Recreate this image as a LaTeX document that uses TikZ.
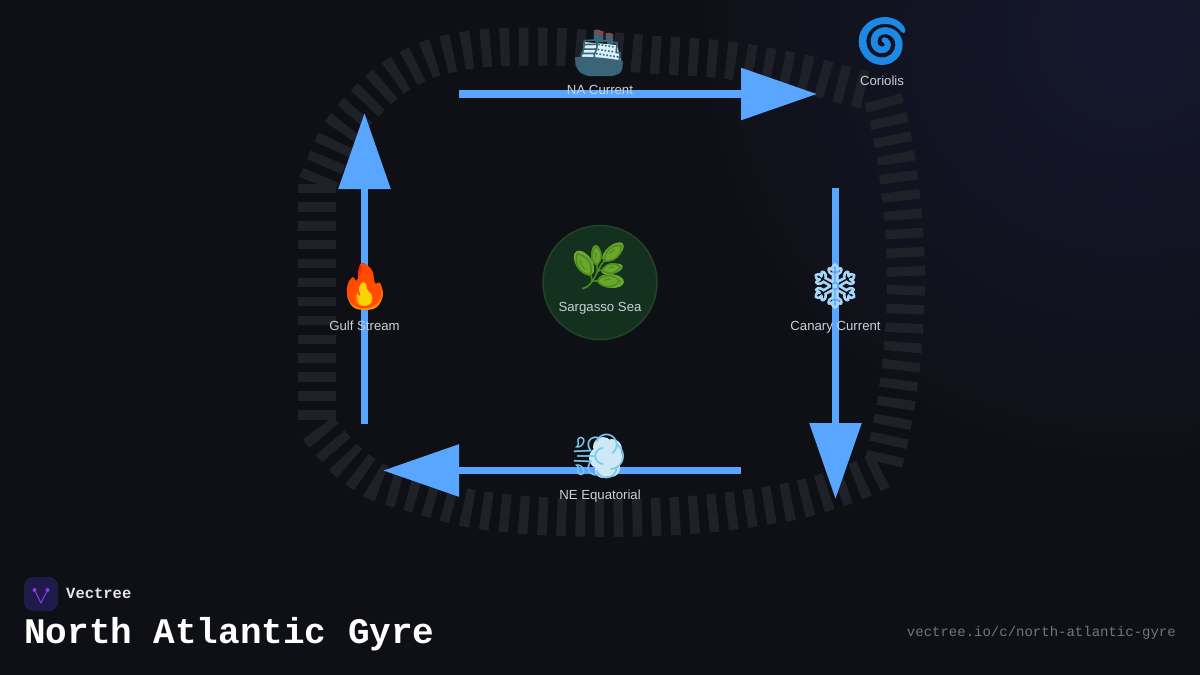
\documentclass[tikz,border=0pt]{standalone}
\usepackage{fontspec}
\setmainfont{Liberation Sans}
\setmonofont{Liberation Mono}
\newfontfamily\emojifont{Noto Emoji}
\newfontfamily\emojibold[FakeBold=2]{Noto Emoji}
\usetikzlibrary{arrows.meta}
\definecolor{bgdark}{HTML}{0F1016}
\definecolor{bgnavy}{HTML}{15172E}
\definecolor{trackgray}{HTML}{1E2228}
\definecolor{flowblue}{HTML}{58A6FF}
\definecolor{labelgray}{HTML}{C9D1D9}
\definecolor{urlgray}{HTML}{6E7681}
\definecolor{seafill}{HTML}{14301F}
\definecolor{seaedge}{HTML}{1F4526}
\definecolor{leafgreen}{HTML}{6AA82D}
\definecolor{leafdark}{HTML}{4F8A1E}
\definecolor{hullblue}{HTML}{3A6478}
\definecolor{cloudblue}{HTML}{CDE8F7}
\definecolor{windblue}{HTML}{7CC8EC}
\definecolor{snowblue}{HTML}{A5D6F7}
\definecolor{spiralblue}{HTML}{1E88E5}
\definecolor{logofill}{HTML}{1E1B4B}
\definecolor{logoedge}{HTML}{2E2A5E}
\definecolor{logomark}{HTML}{9333EA}
\tikzset{
  track/.style={draw=trackgray, line width=38pt, dash pattern=on 9.4pt off 9.5pt},
  flow/.style={->, draw=flowblue, line width=7.5pt},
  icon/.style={inner sep=0pt, font=\emojifont\fontsize{44}{44}\selectfont},
  iconbold/.style={inner sep=0pt, font=\emojibold\fontsize{44}{44}\selectfont},
  lbl/.style={anchor=base, inner sep=0pt, text=labelgray, font=\fontsize{13.2}{15}\selectfont},
}
\begin{document}
\begin{tikzpicture}[x=1pt, y=-1pt, >={Triangle[length=76pt,width=50.5pt]}]
\useasboundingbox (0,0) rectangle (1200,675);
\fill[bgdark] (0,0) rectangle (1200,675);
\shade[inner color=bgnavy, outer color=bgdark] (1130,30) circle (450pt);
\draw[track] (317,419.5) -- (317,184);
\draw[track] plot[smooth, tension=.5] coordinates {(317,184) (325,165) (340,133) (365,103) (393,78) (427,60) (463,51) (501,47) (558,47) (600,50) (650,54.5) (727,60) (800,73) (837,83) (873,92)};
\draw[track] plot[smooth, tension=.5] coordinates {(883,98.5) (889,122) (896,159) (903,215) (906,272) (906,291) (903,347) (896,403) (889,440) (883,466)};
\draw[track] plot[smooth, tension=.5] coordinates {(881,470) (860,480) (823,493) (788,502) (731,511) (675,516) (600,518) (524,515) (468,508) (413,493) (377,482) (347,461) (322,433) (316,425)};
\coordinate (naStart) at (459,94);
\coordinate (naEnd) at (817,94);
\coordinate (canStart) at (835.5,188);
\coordinate (canEnd) at (835.5,499);
\coordinate (neStart) at (741,470.5);
\coordinate (neEnd) at (383,470.5);
\coordinate (gulfStart) at (364.5,424);
\coordinate (gulfEnd) at (364.5,113);
\draw[flow] (naStart) -- (naEnd);
\draw[flow] (canStart) -- (canEnd);
\draw[flow] (neStart) -- (neEnd);
\draw[flow] (gulfStart) -- (gulfEnd);
\node[circle, minimum size=114pt, inner sep=0pt, fill=seafill, draw=seaedge, line width=1.5pt] (sargasso) at (600,282.5) {};
\fill[leafgreen] (584,263) ellipse [x radius=14pt, y radius=8pt, rotate=-56];
\fill[leafgreen] (596,255) ellipse [x radius=10pt, y radius=5pt, rotate=90];
\fill[leafgreen] (613,252) ellipse [x radius=13pt, y radius=6.5pt, rotate=40];
\fill[leafgreen] (612,269) ellipse [x radius=11pt, y radius=5pt, rotate=15];
\fill[leafgreen] (611,281) ellipse [x radius=13pt, y radius=7pt, rotate=-5];
\node[icon, text=leafdark] (leaf) at (599,267) {🌿};
\node[lbl] (sargassoLbl) at (600,311) {Sargasso Sea};
\shade[top color=red!80!orange, bottom color=orange!85!yellow] plot[smooth cycle, tension=.6] coordinates {(362,263) (372,270) (375,283) (380,283) (383,295) (377,307) (365,310) (353,307) (347,295) (350,283) (353,277) (358,283) (358,272)};
\fill[yellow!70!orange] plot[smooth cycle, tension=.8] coordinates {(363,282) (372,297) (365,308) (357,297)};
\node[icon, text=orange!60!red] (fire) at (364,286) {🔥};
\node[lbl] (gulfLbl) at (364.5,330) {Gulf Stream};
\node[iconbold, text=snowblue] (snow) at (835,286) {❄};
\node[lbl] (canLbl) at (835.5,330) {Canary Current};
\fill[hullblue, rounded corners=6pt] (576,59) -- (623,63) -- (618,76) -- (583,76) -- cycle;
\fill[hullblue] (595,31) rectangle (603,42) (607,34) rectangle (613,44);
\fill[red!80!orange] (595,31) rectangle (603,34) (607,34) rectangle (613,37);
\fill[white!85!cyan] (584,42) -- (617,45) -- (621,61) -- (582,57) -- cycle;
\draw[red!80!orange, line width=1.5pt] (576,59.5) -- (623,63.5);
\node[icon, text=hullblue] (ship) at (599,52) {🚢};
\node[lbl] (naLbl) at (600,94) {NA Current};
\node[iconbold, text=spiralblue, font=\emojibold\fontsize{48}{48}\selectfont] (spiral) at (882,41) {🌀};
\node[lbl] (corLbl) at (882,85) {Coriolis};
\fill[cloudblue] (603,447) circle (10pt) (612,449) circle (10pt) (613,458) circle (10pt) (611,468) circle (9pt) (603,470) circle (8pt) (600,458) circle (11pt);
\node[icon, text=windblue] (wind) at (599,456) {💨};
\node[lbl] (neLbl) at (600,499) {NE Equatorial};
\node[draw=logoedge, fill=logofill, rounded corners=9pt, minimum size=33pt, inner sep=0pt] (logo) at (41,594) {};
\coordinate (logoLeft) at (34.5,590);
\coordinate (logoRight) at (47.5,590);
\coordinate (logoBase) at (41,603);
\draw[logomark, line width=1pt] (logoLeft) -- (logoBase) -- (logoRight);
\fill[logomark] (logoLeft) circle (2pt) (logoRight) circle (2pt);
\node[anchor=west, inner sep=0pt, text=white!90!black, font=\ttfamily\bfseries\fontsize{15.5}{18}\selectfont] (brand) at (66,593.5) {Vectree};
\node[anchor=west, inner sep=0pt, text=white, font=\ttfamily\bfseries\fontsize{36}{40}\selectfont] (title) at (24,634.5) {North Atlantic Gyre};
\node[anchor=east, inner sep=0pt, text=urlgray, font=\ttfamily\fontsize{14}{16}\selectfont] (url) at (1176,633) {vectree.io/c/north-atlantic-gyre};
\end{tikzpicture}
\end{document}
